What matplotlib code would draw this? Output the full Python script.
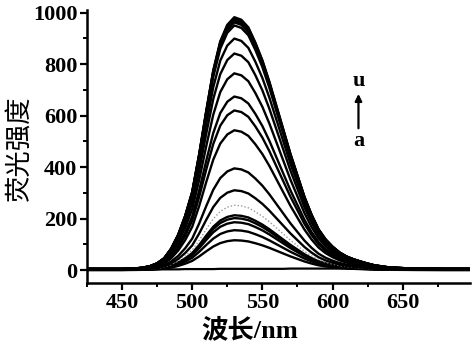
import matplotlib
matplotlib.use("Agg")
import matplotlib.pyplot as plt
from matplotlib.ticker import MultipleLocator

# wavelength grid (nm) and normalised emission profile
wavelength = [425, 440, 450, 460, 465, 470, 475, 480, 485, 490, 495, 500, 505,
              510, 515, 520, 525, 530, 535, 540, 545, 550, 555, 560, 565, 570,
              575, 580, 585, 590, 595, 600, 605, 610, 615, 620, 625, 630, 640,
              650, 660, 680, 700]
profile = [0.005, 0.005, 0.005, 0.007, 0.010, 0.016, 0.027, 0.047, 0.085, 0.140,
           0.215, 0.310, 0.460, 0.630, 0.790, 0.905, 0.970, 1.000, 0.990, 0.960,
           0.900, 0.830, 0.745, 0.650, 0.555, 0.460, 0.375, 0.290, 0.220, 0.162,
           0.122, 0.093, 0.070, 0.054, 0.043, 0.034, 0.026, 0.019, 0.011,
           0.008, 0.006, 0.005, 0.005]

# peak intensities of curves b..u (a is the flat baseline curve)
peaks = [116, 155, 186, 202, 213, 252, 310, 395, 543, 620, 674, 764, 841,
         899, 950, 962, 968, 974, 978, 982]
dotted_index = 5  # curve with peak ~252 drawn grey dotted

curve_a = [3, 3, 3, 3, 3, 3, 3, 3, 3, 3, 4, 4, 4, 4, 4, 5, 5, 5, 5, 5, 5, 5,
           5, 5, 5, 6, 6, 6, 6, 6, 6, 6, 6, 6, 6, 6, 6, 6, 6, 6, 6, 6, 6]

xticks = [450, 500, 550, 600, 650]
yticks = [0, 200, 400, 600, 800, 1000]

plt.rcParams['font.family'] = ['Liberation Serif', 'Noto Sans CJK SC']

fig = plt.figure(figsize=(4.74, 3.47), dpi=100)
ax = fig.add_axes([87/474, 1 - 283/347, (470 - 87)/474, (283 - 10)/347])

ax.plot(wavelength, curve_a, color='black', lw=1.6)
for i, p in enumerate(peaks):
    y = [p * v for v in profile]
    if i == dotted_index:
        ax.plot(wavelength, y, color='#999999', lw=1.0, ls=(0, (1, 1.5)))
    else:
        ax.plot(wavelength, y, color='black', lw=1.7)

ax.set_xlim(425, 698)
ax.set_ylim(-50, 1010)
ax.set_xticks(xticks)
ax.set_yticks(yticks)
ax.xaxis.set_minor_locator(MultipleLocator(25))
ax.yaxis.set_minor_locator(MultipleLocator(100))
for s in ['top', 'right']:
    ax.spines[s].set_visible(False)
for s in ['left', 'bottom']:
    ax.spines[s].set_linewidth(1.8)
ax.tick_params(which='major', direction='out', length=5, width=1.6,
               labelsize=16, pad=2)
ax.tick_params(which='minor', direction='out', length=3, width=1.4)
for lbl in ax.get_xticklabels() + ax.get_yticklabels():
    lbl.set_fontweight('bold')

ax.set_xlabel('波长/nm', fontsize=19, fontweight='bold')
ax.xaxis.set_label_coords((250 - 87) / 383, -(330 - 283) / 273 + 0.0)
ax.xaxis.label.set_va('center')
ax.set_ylabel('荧光强度', fontsize=19, family=['Noto Sans CJK SC'])
ax.yaxis.set_label_coords(-(87 - 19) / 383, (283 - 148) / 273)
ax.yaxis.label.set_va('center')

ax.annotate('', xy=(618.5, 695), xytext=(618.5, 540),
            arrowprops=dict(arrowstyle='-|>', color='black', lw=1.6,
                            mutation_scale=10))
ax.text(618.5, 736, 'u', ha='center', va='center', fontsize=16,
        fontweight='bold')
ax.text(618.5, 500, 'a', ha='center', va='center', fontsize=16,
        fontweight='bold')

fig.savefig('out.png', dpi=100)
